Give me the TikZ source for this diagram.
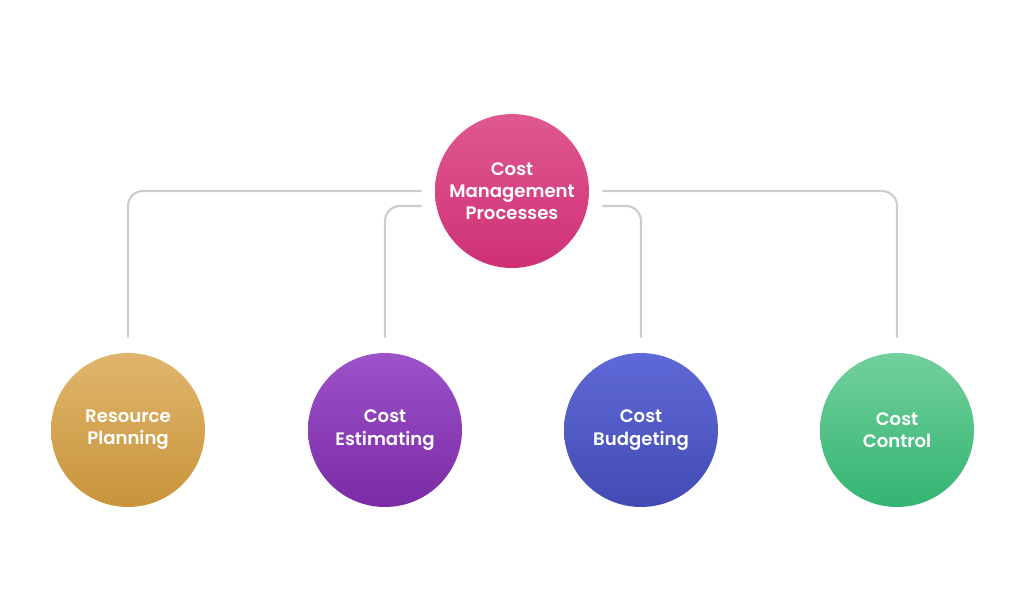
\documentclass[tikz,border=0pt]{standalone}
\usepackage{fontspec}
\setmainfont{Poppins}[BoldFont={Poppins SemiBold}]
\usepackage{tikz}
\usetikzlibrary{positioning}

\definecolor{pinkT}{HTML}{E0588F}
\definecolor{pinkB}{HTML}{CE3176}
\definecolor{goldT}{HTML}{E0B56C}
\definecolor{goldB}{HTML}{C8943B}
\definecolor{violT}{HTML}{9C52C9}
\definecolor{violB}{HTML}{7A2BA5}
\definecolor{blueT}{HTML}{5F69D7}
\definecolor{blueB}{HTML}{434BB3}
\definecolor{grnT}{HTML}{72D09C}
\definecolor{grnB}{HTML}{33B472}
\definecolor{linkgray}{HTML}{CCCCCC}

\tikzset{
  proc/.style={circle, minimum size=3.08cm, inner sep=0pt, align=center,
    text=white, font=\fontsize{10.3}{12.6}\selectfont\bfseries, shading=axis,
    shading angle=0},
  link/.style={draw=linkgray, line width=1.2pt, rounded corners=0.3cm}
}

\begin{document}
\begin{tikzpicture}[x=0.02cm,y=-0.02cm]
        \useasboundingbox (0,0) rectangle (1024,613);

        % Top process
        \node[proc, top color=pinkT, bottom color=pinkB] (cmp) at (512,191) {Cost\\Management\\Processes};

        % Sub processes
        \node[proc, top color=goldT, bottom color=goldB] (res) at (128,430) {Resource\\Planning};
        \node[proc, top color=violT, bottom color=violB] (est) at (385,430) {Cost\\Estimating};
        \node[proc, top color=blueT, bottom color=blueB] (bud) at (641,430) {Cost\\Budgeting};
        \node[proc, top color=grnT, bottom color=grnB] (ctl) at (897,430) {Cost\\Control};

        % Links
        \draw[link] ([xshift=-0.26cm]cmp.west) -| ([yshift=0.3cm]res.north);
        \draw[link] ([xshift=-0.26cm,yshift=-0.3cm]cmp.west) -| ([yshift=0.3cm]est.north);
        \draw[link] ([xshift=0.26cm,yshift=-0.3cm]cmp.east) -| ([yshift=0.3cm]bud.north);
        \draw[link] ([xshift=0.26cm]cmp.east) -| ([yshift=0.3cm]ctl.north);
      \end{tikzpicture}
\end{document}
